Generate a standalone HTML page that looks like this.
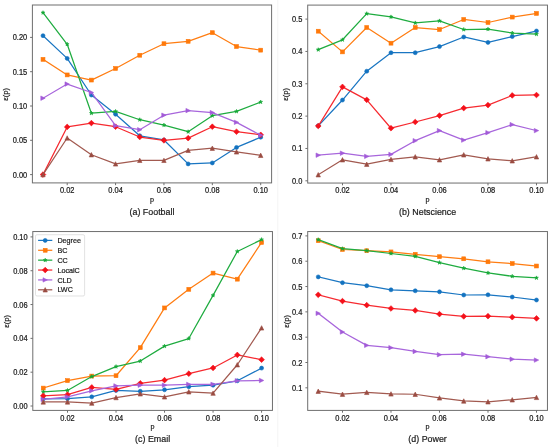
<!DOCTYPE html><html><head><meta charset="utf-8"><style>html,body{margin:0;padding:0;background:#fff;width:550px;height:447px;overflow:hidden}svg{display:block;will-change:transform}text{font-family:"Liberation Sans", sans-serif;fill:#1a1a1a;stroke:#1a1a1a;stroke-width:0.2px}</style></head><body>
<svg width="550" height="447" viewBox="0 0 550 447">
<rect width="550" height="447" fill="#fff"/>
<line x1="277.8" y1="0" x2="277.8" y2="447" stroke="#f4f4f4" stroke-width="1"/>
<g transform="translate(0.5 0.5)">
<clipPath id="c0"><rect x="31.9" y="4.5" width="239.2" height="177.9"/></clipPath>
<g clip-path="url(#c0)">
<polyline points="42.5,35.18 66.69,57.89 90.88,94.52 115.07,113.73 139.26,135.27 163.45,139.46 187.64,163.4 211.83,162.44 236.02,146.93 260.21,136.71" fill="none" stroke="#1a76c2" stroke-width="1.25" stroke-linejoin="round" stroke-linecap="square"/>
<circle cx="42.5" cy="35.18" r="2" fill="#1272c0" stroke="#1272c0" stroke-width="0.6"/>
<circle cx="66.69" cy="57.89" r="2" fill="#1272c0" stroke="#1272c0" stroke-width="0.6"/>
<circle cx="90.88" cy="94.52" r="2" fill="#1272c0" stroke="#1272c0" stroke-width="0.6"/>
<circle cx="115.07" cy="113.73" r="2" fill="#1272c0" stroke="#1272c0" stroke-width="0.6"/>
<circle cx="139.26" cy="135.27" r="2" fill="#1272c0" stroke="#1272c0" stroke-width="0.6"/>
<circle cx="163.45" cy="139.46" r="2" fill="#1272c0" stroke="#1272c0" stroke-width="0.6"/>
<circle cx="187.64" cy="163.4" r="2" fill="#1272c0" stroke="#1272c0" stroke-width="0.6"/>
<circle cx="211.83" cy="162.44" r="2" fill="#1272c0" stroke="#1272c0" stroke-width="0.6"/>
<circle cx="236.02" cy="146.93" r="2" fill="#1272c0" stroke="#1272c0" stroke-width="0.6"/>
<circle cx="260.21" cy="136.71" r="2" fill="#1272c0" stroke="#1272c0" stroke-width="0.6"/>
<polyline points="42.5,58.85 66.69,74.42 90.88,79.57 115.07,67.98 139.26,54.74 163.45,43.21 187.64,40.81 211.83,32.17 236.02,46.02 260.21,49.66" fill="none" stroke="#ff7d12" stroke-width="1.25" stroke-linejoin="round" stroke-linecap="square"/>
<rect x="40.55" y="56.9" width="3.9" height="3.9" fill="#ff790a" stroke="#ff790a" stroke-width="0.6"/>
<rect x="64.74" y="72.47" width="3.9" height="3.9" fill="#ff790a" stroke="#ff790a" stroke-width="0.6"/>
<rect x="88.93" y="77.62" width="3.9" height="3.9" fill="#ff790a" stroke="#ff790a" stroke-width="0.6"/>
<rect x="113.12" y="66.03" width="3.9" height="3.9" fill="#ff790a" stroke="#ff790a" stroke-width="0.6"/>
<rect x="137.31" y="52.79" width="3.9" height="3.9" fill="#ff790a" stroke="#ff790a" stroke-width="0.6"/>
<rect x="161.5" y="41.26" width="3.9" height="3.9" fill="#ff790a" stroke="#ff790a" stroke-width="0.6"/>
<rect x="185.69" y="38.86" width="3.9" height="3.9" fill="#ff790a" stroke="#ff790a" stroke-width="0.6"/>
<rect x="209.88" y="30.22" width="3.9" height="3.9" fill="#ff790a" stroke="#ff790a" stroke-width="0.6"/>
<rect x="234.07" y="44.07" width="3.9" height="3.9" fill="#ff790a" stroke="#ff790a" stroke-width="0.6"/>
<rect x="258.26" y="47.71" width="3.9" height="3.9" fill="#ff790a" stroke="#ff790a" stroke-width="0.6"/>
<polyline points="42.5,12.2 66.69,43.76 90.88,112.7 115.07,110.92 139.26,119.22 163.45,124.57 187.64,131.22 211.83,115.17 236.02,110.92 260.21,101.52" fill="none" stroke="#1fac40" stroke-width="1.25" stroke-linejoin="round" stroke-linecap="square"/>
<path d="M42.5 10.2L42.95 11.59L44.4 11.59L43.23 12.44L43.68 13.82L42.5 12.97L41.32 13.82L41.77 12.44L40.6 11.59L42.05 11.59Z" fill="#14a836" stroke="#14a836" stroke-width="0.6"/>
<path d="M66.69 41.76L67.14 43.14L68.59 43.14L67.42 44L67.87 45.38L66.69 44.52L65.51 45.38L65.96 44L64.79 43.14L66.24 43.14Z" fill="#14a836" stroke="#14a836" stroke-width="0.6"/>
<path d="M90.88 110.7L91.33 112.08L92.78 112.08L91.61 112.94L92.06 114.32L90.88 113.47L89.7 114.32L90.15 112.94L88.98 112.08L90.43 112.08Z" fill="#14a836" stroke="#14a836" stroke-width="0.6"/>
<path d="M115.07 108.92L115.52 110.3L116.97 110.3L115.8 111.16L116.25 112.54L115.07 111.68L113.89 112.54L114.34 111.16L113.17 110.3L114.62 110.3Z" fill="#14a836" stroke="#14a836" stroke-width="0.6"/>
<path d="M139.26 117.22L139.71 118.6L141.16 118.6L139.99 119.46L140.44 120.84L139.26 119.98L138.08 120.84L138.53 119.46L137.36 118.6L138.81 118.6Z" fill="#14a836" stroke="#14a836" stroke-width="0.6"/>
<path d="M163.45 122.57L163.9 123.95L165.35 123.95L164.18 124.81L164.63 126.19L163.45 125.33L162.27 126.19L162.72 124.81L161.55 123.95L163 123.95Z" fill="#14a836" stroke="#14a836" stroke-width="0.6"/>
<path d="M187.64 129.22L188.09 130.61L189.54 130.61L188.37 131.46L188.82 132.84L187.64 131.99L186.46 132.84L186.91 131.46L185.74 130.61L187.19 130.61Z" fill="#14a836" stroke="#14a836" stroke-width="0.6"/>
<path d="M211.83 113.17L212.28 114.55L213.73 114.55L212.56 115.41L213.01 116.79L211.83 115.94L210.65 116.79L211.1 115.41L209.93 114.55L211.38 114.55Z" fill="#14a836" stroke="#14a836" stroke-width="0.6"/>
<path d="M236.02 108.92L236.47 110.3L237.92 110.3L236.75 111.16L237.2 112.54L236.02 111.68L234.84 112.54L235.29 111.16L234.12 110.3L235.57 110.3Z" fill="#14a836" stroke="#14a836" stroke-width="0.6"/>
<path d="M260.21 99.52L260.66 100.9L262.11 100.9L260.94 101.76L261.39 103.14L260.21 102.29L259.03 103.14L259.48 101.76L258.31 100.9L259.76 100.9Z" fill="#14a836" stroke="#14a836" stroke-width="0.6"/>
<polyline points="42.5,174.1 66.69,126.42 90.88,122.58 115.07,126.22 139.26,136.51 163.45,139.87 187.64,137.67 211.83,126.22 236.02,131.22 260.21,134.31" fill="none" stroke="#f62a30" stroke-width="1.25" stroke-linejoin="round" stroke-linecap="square"/>
<path d="M42.5 171.25L45.35 174.1L42.5 176.95L39.65 174.1Z" fill="#f4101a" stroke="#f4101a" stroke-width="0.6"/>
<path d="M66.69 123.57L69.54 126.42L66.69 129.27L63.84 126.42Z" fill="#f4101a" stroke="#f4101a" stroke-width="0.6"/>
<path d="M90.88 119.73L93.73 122.58L90.88 125.43L88.03 122.58Z" fill="#f4101a" stroke="#f4101a" stroke-width="0.6"/>
<path d="M115.07 123.37L117.92 126.22L115.07 129.07L112.22 126.22Z" fill="#f4101a" stroke="#f4101a" stroke-width="0.6"/>
<path d="M139.26 133.66L142.11 136.51L139.26 139.36L136.41 136.51Z" fill="#f4101a" stroke="#f4101a" stroke-width="0.6"/>
<path d="M163.45 137.02L166.3 139.87L163.45 142.72L160.6 139.87Z" fill="#f4101a" stroke="#f4101a" stroke-width="0.6"/>
<path d="M187.64 134.82L190.49 137.67L187.64 140.52L184.79 137.67Z" fill="#f4101a" stroke="#f4101a" stroke-width="0.6"/>
<path d="M211.83 123.37L214.68 126.22L211.83 129.07L208.98 126.22Z" fill="#f4101a" stroke="#f4101a" stroke-width="0.6"/>
<path d="M236.02 128.38L238.87 131.22L236.02 134.07L233.17 131.22Z" fill="#f4101a" stroke="#f4101a" stroke-width="0.6"/>
<path d="M260.21 131.46L263.06 134.31L260.21 137.16L257.36 134.31Z" fill="#f4101a" stroke="#f4101a" stroke-width="0.6"/>
<polyline points="42.5,97.68 66.69,83.55 90.88,91.99 115.07,125.19 139.26,129.24 163.45,114.69 187.64,110.1 211.83,112.09 236.02,121.83 260.21,134.72" fill="none" stroke="#a866dc" stroke-width="1.25" stroke-linejoin="round" stroke-linecap="square"/>
<path d="M44.7 97.68L40.3 99.88L40.3 95.48Z" fill="#a25bd8" stroke="#a25bd8" stroke-width="0.6"/>
<path d="M68.89 83.55L64.49 85.75L64.49 81.35Z" fill="#a25bd8" stroke="#a25bd8" stroke-width="0.6"/>
<path d="M93.08 91.99L88.68 94.19L88.68 89.79Z" fill="#a25bd8" stroke="#a25bd8" stroke-width="0.6"/>
<path d="M117.27 125.19L112.87 127.39L112.87 122.99Z" fill="#a25bd8" stroke="#a25bd8" stroke-width="0.6"/>
<path d="M141.46 129.24L137.06 131.44L137.06 127.04Z" fill="#a25bd8" stroke="#a25bd8" stroke-width="0.6"/>
<path d="M165.65 114.69L161.25 116.89L161.25 112.49Z" fill="#a25bd8" stroke="#a25bd8" stroke-width="0.6"/>
<path d="M189.84 110.1L185.44 112.3L185.44 107.9Z" fill="#a25bd8" stroke="#a25bd8" stroke-width="0.6"/>
<path d="M214.03 112.09L209.63 114.29L209.63 109.89Z" fill="#a25bd8" stroke="#a25bd8" stroke-width="0.6"/>
<path d="M238.22 121.83L233.82 124.03L233.82 119.63Z" fill="#a25bd8" stroke="#a25bd8" stroke-width="0.6"/>
<path d="M262.41 134.72L258.01 136.92L258.01 132.52Z" fill="#a25bd8" stroke="#a25bd8" stroke-width="0.6"/>
<polyline points="42.5,174.1 66.69,137.47 90.88,154.21 115.07,163.4 139.26,159.83 163.45,159.83 187.64,149.82 211.83,147.69 236.02,151.39 260.21,154.82" fill="none" stroke="#a25a50" stroke-width="1.25" stroke-linejoin="round" stroke-linecap="square"/>
<path d="M42.5 171.9L44.7 176.3L40.3 176.3Z" fill="#9a4c42" stroke="#9a4c42" stroke-width="0.6"/>
<path d="M66.69 135.27L68.89 139.67L64.49 139.67Z" fill="#9a4c42" stroke="#9a4c42" stroke-width="0.6"/>
<path d="M90.88 152.01L93.08 156.41L88.68 156.41Z" fill="#9a4c42" stroke="#9a4c42" stroke-width="0.6"/>
<path d="M115.07 161.2L117.27 165.6L112.87 165.6Z" fill="#9a4c42" stroke="#9a4c42" stroke-width="0.6"/>
<path d="M139.26 157.63L141.46 162.03L137.06 162.03Z" fill="#9a4c42" stroke="#9a4c42" stroke-width="0.6"/>
<path d="M163.45 157.63L165.65 162.03L161.25 162.03Z" fill="#9a4c42" stroke="#9a4c42" stroke-width="0.6"/>
<path d="M187.64 147.62L189.84 152.02L185.44 152.02Z" fill="#9a4c42" stroke="#9a4c42" stroke-width="0.6"/>
<path d="M211.83 145.49L214.03 149.89L209.63 149.89Z" fill="#9a4c42" stroke="#9a4c42" stroke-width="0.6"/>
<path d="M236.02 149.19L238.22 153.59L233.82 153.59Z" fill="#9a4c42" stroke="#9a4c42" stroke-width="0.6"/>
<path d="M260.21 152.62L262.41 157.02L258.01 157.02Z" fill="#9a4c42" stroke="#9a4c42" stroke-width="0.6"/>
</g>
<rect x="31.9" y="4.5" width="239.2" height="177.9" fill="none" stroke="#6e6e6e" stroke-width="1.0"/>
<line x1="66.69" y1="182.4" x2="66.69" y2="184.7" stroke="#6e6e6e" stroke-width="1.0"/>
<text transform="translate(66.69 192.5) scale(1 1.14)" font-size="7.45" text-anchor="middle">0.02</text>
<line x1="115.07" y1="182.4" x2="115.07" y2="184.7" stroke="#6e6e6e" stroke-width="1.0"/>
<text transform="translate(115.07 192.5) scale(1 1.14)" font-size="7.45" text-anchor="middle">0.04</text>
<line x1="163.45" y1="182.4" x2="163.45" y2="184.7" stroke="#6e6e6e" stroke-width="1.0"/>
<text transform="translate(163.45 192.5) scale(1 1.14)" font-size="7.45" text-anchor="middle">0.06</text>
<line x1="211.83" y1="182.4" x2="211.83" y2="184.7" stroke="#6e6e6e" stroke-width="1.0"/>
<text transform="translate(211.83 192.5) scale(1 1.14)" font-size="7.45" text-anchor="middle">0.08</text>
<line x1="260.21" y1="182.4" x2="260.21" y2="184.7" stroke="#6e6e6e" stroke-width="1.0"/>
<text transform="translate(260.21 192.5) scale(1 1.14)" font-size="7.45" text-anchor="middle">0.10</text>
<line x1="29.6" y1="174.1" x2="31.9" y2="174.1" stroke="#6e6e6e" stroke-width="1.0"/>
<text transform="translate(26.7 177.1) scale(1 1.14)" font-size="7.45" text-anchor="end">0.00</text>
<line x1="29.6" y1="139.8" x2="31.9" y2="139.8" stroke="#6e6e6e" stroke-width="1.0"/>
<text transform="translate(26.7 142.8) scale(1 1.14)" font-size="7.45" text-anchor="end">0.05</text>
<line x1="29.6" y1="105.5" x2="31.9" y2="105.5" stroke="#6e6e6e" stroke-width="1.0"/>
<text transform="translate(26.7 108.5) scale(1 1.14)" font-size="7.45" text-anchor="end">0.10</text>
<line x1="29.6" y1="71.2" x2="31.9" y2="71.2" stroke="#6e6e6e" stroke-width="1.0"/>
<text transform="translate(26.7 74.2) scale(1 1.14)" font-size="7.45" text-anchor="end">0.15</text>
<line x1="29.6" y1="36.9" x2="31.9" y2="36.9" stroke="#6e6e6e" stroke-width="1.0"/>
<text transform="translate(26.7 39.9) scale(1 1.14)" font-size="7.45" text-anchor="end">0.20</text>
<text x="151.5" y="201.3" font-size="7.2" text-anchor="middle">p</text>
<text transform="translate(7.8 93.75) rotate(-90)" font-size="7.7" text-anchor="middle">&#949;(p)</text>
<text x="151.5" y="214.7" font-size="8.9" text-anchor="middle">(a) Football</text>
<clipPath id="c1"><rect x="307.2" y="4.6" width="239.75" height="177.95"/></clipPath>
<g clip-path="url(#c1)">
<polyline points="317.74,125.32 341.99,99.55 366.24,70.7 390.49,52.23 414.74,52.23 438.99,46.09 463.24,36.48 487.49,41.88 511.74,36.1 535.99,30.5" fill="none" stroke="#1a76c2" stroke-width="1.25" stroke-linejoin="round" stroke-linecap="square"/>
<circle cx="317.74" cy="125.32" r="2" fill="#1272c0" stroke="#1272c0" stroke-width="0.6"/>
<circle cx="341.99" cy="99.55" r="2" fill="#1272c0" stroke="#1272c0" stroke-width="0.6"/>
<circle cx="366.24" cy="70.7" r="2" fill="#1272c0" stroke="#1272c0" stroke-width="0.6"/>
<circle cx="390.49" cy="52.23" r="2" fill="#1272c0" stroke="#1272c0" stroke-width="0.6"/>
<circle cx="414.74" cy="52.23" r="2" fill="#1272c0" stroke="#1272c0" stroke-width="0.6"/>
<circle cx="438.99" cy="46.09" r="2" fill="#1272c0" stroke="#1272c0" stroke-width="0.6"/>
<circle cx="463.24" cy="36.48" r="2" fill="#1272c0" stroke="#1272c0" stroke-width="0.6"/>
<circle cx="487.49" cy="41.88" r="2" fill="#1272c0" stroke="#1272c0" stroke-width="0.6"/>
<circle cx="511.74" cy="36.1" r="2" fill="#1272c0" stroke="#1272c0" stroke-width="0.6"/>
<circle cx="535.99" cy="30.5" r="2" fill="#1272c0" stroke="#1272c0" stroke-width="0.6"/>
<polyline points="317.74,30.7 341.99,51.39 366.24,27.01 390.49,42.69 414.74,27.01 438.99,29.01 463.24,18.99 487.49,22 511.74,16.59 535.99,12.94" fill="none" stroke="#ff7d12" stroke-width="1.25" stroke-linejoin="round" stroke-linecap="square"/>
<rect x="315.79" y="28.75" width="3.9" height="3.9" fill="#ff790a" stroke="#ff790a" stroke-width="0.6"/>
<rect x="340.04" y="49.44" width="3.9" height="3.9" fill="#ff790a" stroke="#ff790a" stroke-width="0.6"/>
<rect x="364.29" y="25.06" width="3.9" height="3.9" fill="#ff790a" stroke="#ff790a" stroke-width="0.6"/>
<rect x="388.54" y="40.74" width="3.9" height="3.9" fill="#ff790a" stroke="#ff790a" stroke-width="0.6"/>
<rect x="412.79" y="25.06" width="3.9" height="3.9" fill="#ff790a" stroke="#ff790a" stroke-width="0.6"/>
<rect x="437.04" y="27.06" width="3.9" height="3.9" fill="#ff790a" stroke="#ff790a" stroke-width="0.6"/>
<rect x="461.29" y="17.04" width="3.9" height="3.9" fill="#ff790a" stroke="#ff790a" stroke-width="0.6"/>
<rect x="485.54" y="20.05" width="3.9" height="3.9" fill="#ff790a" stroke="#ff790a" stroke-width="0.6"/>
<rect x="509.79" y="14.64" width="3.9" height="3.9" fill="#ff790a" stroke="#ff790a" stroke-width="0.6"/>
<rect x="534.04" y="10.99" width="3.9" height="3.9" fill="#ff790a" stroke="#ff790a" stroke-width="0.6"/>
<polyline points="317.74,49.19 341.99,39.3 366.24,13.17 390.49,16.4 414.74,22.38 438.99,20.41 463.24,29.01 487.49,28.63 511.74,32.51 535.99,33.7" fill="none" stroke="#1fac40" stroke-width="1.25" stroke-linejoin="round" stroke-linecap="square"/>
<path d="M317.74 47.19L318.19 48.58L319.64 48.58L318.47 49.43L318.92 50.81L317.74 49.96L316.56 50.81L317.01 49.43L315.84 48.58L317.29 48.58Z" fill="#14a836" stroke="#14a836" stroke-width="0.6"/>
<path d="M341.99 37.3L342.44 38.68L343.89 38.68L342.72 39.53L343.17 40.92L341.99 40.06L340.81 40.92L341.26 39.53L340.09 38.68L341.54 38.68Z" fill="#14a836" stroke="#14a836" stroke-width="0.6"/>
<path d="M366.24 11.17L366.69 12.55L368.14 12.55L366.97 13.4L367.42 14.78L366.24 13.93L365.06 14.78L365.51 13.4L364.34 12.55L365.79 12.55Z" fill="#14a836" stroke="#14a836" stroke-width="0.6"/>
<path d="M390.49 14.4L390.94 15.78L392.39 15.78L391.22 16.64L391.67 18.02L390.49 17.16L389.31 18.02L389.76 16.64L388.59 15.78L390.04 15.78Z" fill="#14a836" stroke="#14a836" stroke-width="0.6"/>
<path d="M414.74 20.38L415.19 21.77L416.64 21.77L415.47 22.62L415.92 24L414.74 23.15L413.56 24L414.01 22.62L412.84 21.77L414.29 21.77Z" fill="#14a836" stroke="#14a836" stroke-width="0.6"/>
<path d="M438.99 18.41L439.44 19.79L440.89 19.79L439.72 20.65L440.17 22.03L438.99 21.17L437.81 22.03L438.26 20.65L437.09 19.79L438.54 19.79Z" fill="#14a836" stroke="#14a836" stroke-width="0.6"/>
<path d="M463.24 27.01L463.69 28.4L465.14 28.4L463.97 29.25L464.42 30.63L463.24 29.78L462.06 30.63L462.51 29.25L461.34 28.4L462.79 28.4Z" fill="#14a836" stroke="#14a836" stroke-width="0.6"/>
<path d="M487.49 26.63L487.94 28.01L489.39 28.01L488.22 28.86L488.67 30.24L487.49 29.39L486.31 30.24L486.76 28.86L485.59 28.01L487.04 28.01Z" fill="#14a836" stroke="#14a836" stroke-width="0.6"/>
<path d="M511.74 30.51L512.19 31.89L513.64 31.89L512.47 32.74L512.92 34.12L511.74 33.27L510.56 34.12L511.01 32.74L509.84 31.89L511.29 31.89Z" fill="#14a836" stroke="#14a836" stroke-width="0.6"/>
<path d="M535.99 31.7L536.44 33.08L537.89 33.08L536.72 33.94L537.17 35.32L535.99 34.47L534.81 35.32L535.26 33.94L534.09 33.08L535.54 33.08Z" fill="#14a836" stroke="#14a836" stroke-width="0.6"/>
<polyline points="317.74,125.52 341.99,86.38 366.24,99.35 390.49,127.72 414.74,121.51 438.99,115.1 463.24,107.6 487.49,104.59 511.74,94.92 535.99,94.5" fill="none" stroke="#f62a30" stroke-width="1.25" stroke-linejoin="round" stroke-linecap="square"/>
<path d="M317.74 122.67L320.59 125.52L317.74 128.37L314.89 125.52Z" fill="#f4101a" stroke="#f4101a" stroke-width="0.6"/>
<path d="M341.99 83.53L344.84 86.38L341.99 89.23L339.14 86.38Z" fill="#f4101a" stroke="#f4101a" stroke-width="0.6"/>
<path d="M366.24 96.5L369.09 99.35L366.24 102.2L363.39 99.35Z" fill="#f4101a" stroke="#f4101a" stroke-width="0.6"/>
<path d="M390.49 124.87L393.34 127.72L390.49 130.57L387.64 127.72Z" fill="#f4101a" stroke="#f4101a" stroke-width="0.6"/>
<path d="M414.74 118.66L417.59 121.51L414.74 124.36L411.89 121.51Z" fill="#f4101a" stroke="#f4101a" stroke-width="0.6"/>
<path d="M438.99 112.25L441.84 115.1L438.99 117.95L436.14 115.1Z" fill="#f4101a" stroke="#f4101a" stroke-width="0.6"/>
<path d="M463.24 104.75L466.09 107.6L463.24 110.45L460.39 107.6Z" fill="#f4101a" stroke="#f4101a" stroke-width="0.6"/>
<path d="M487.49 101.74L490.34 104.59L487.49 107.44L484.64 104.59Z" fill="#f4101a" stroke="#f4101a" stroke-width="0.6"/>
<path d="M511.74 92.07L514.59 94.92L511.74 97.77L508.89 94.92Z" fill="#f4101a" stroke="#f4101a" stroke-width="0.6"/>
<path d="M535.99 91.65L538.84 94.5L535.99 97.35L533.14 94.5Z" fill="#f4101a" stroke="#f4101a" stroke-width="0.6"/>
<polyline points="317.74,154.69 341.99,152.68 366.24,155.88 390.49,153.91 414.74,140.2 438.99,130.11 463.24,139.62 487.49,132.21 511.74,124.09 535.99,130.11" fill="none" stroke="#a866dc" stroke-width="1.25" stroke-linejoin="round" stroke-linecap="square"/>
<path d="M319.94 154.69L315.54 156.89L315.54 152.49Z" fill="#a25bd8" stroke="#a25bd8" stroke-width="0.6"/>
<path d="M344.19 152.68L339.79 154.88L339.79 150.48Z" fill="#a25bd8" stroke="#a25bd8" stroke-width="0.6"/>
<path d="M368.44 155.88L364.04 158.08L364.04 153.68Z" fill="#a25bd8" stroke="#a25bd8" stroke-width="0.6"/>
<path d="M392.69 153.91L388.29 156.11L388.29 151.71Z" fill="#a25bd8" stroke="#a25bd8" stroke-width="0.6"/>
<path d="M416.94 140.2L412.54 142.4L412.54 138Z" fill="#a25bd8" stroke="#a25bd8" stroke-width="0.6"/>
<path d="M441.19 130.11L436.79 132.31L436.79 127.91Z" fill="#a25bd8" stroke="#a25bd8" stroke-width="0.6"/>
<path d="M465.44 139.62L461.04 141.82L461.04 137.42Z" fill="#a25bd8" stroke="#a25bd8" stroke-width="0.6"/>
<path d="M489.69 132.21L485.29 134.41L485.29 130.01Z" fill="#a25bd8" stroke="#a25bd8" stroke-width="0.6"/>
<path d="M513.94 124.09L509.54 126.29L509.54 121.89Z" fill="#a25bd8" stroke="#a25bd8" stroke-width="0.6"/>
<path d="M538.19 130.11L533.79 132.31L533.79 127.91Z" fill="#a25bd8" stroke="#a25bd8" stroke-width="0.6"/>
<polyline points="317.74,174.25 341.99,159.28 366.24,163.71 390.49,158.89 414.74,156.3 438.99,159.28 463.24,154.3 487.49,158.31 511.74,160.31 535.99,156.3" fill="none" stroke="#a25a50" stroke-width="1.25" stroke-linejoin="round" stroke-linecap="square"/>
<path d="M317.74 172.05L319.94 176.45L315.54 176.45Z" fill="#9a4c42" stroke="#9a4c42" stroke-width="0.6"/>
<path d="M341.99 157.08L344.19 161.48L339.79 161.48Z" fill="#9a4c42" stroke="#9a4c42" stroke-width="0.6"/>
<path d="M366.24 161.51L368.44 165.91L364.04 165.91Z" fill="#9a4c42" stroke="#9a4c42" stroke-width="0.6"/>
<path d="M390.49 156.69L392.69 161.09L388.29 161.09Z" fill="#9a4c42" stroke="#9a4c42" stroke-width="0.6"/>
<path d="M414.74 154.1L416.94 158.5L412.54 158.5Z" fill="#9a4c42" stroke="#9a4c42" stroke-width="0.6"/>
<path d="M438.99 157.08L441.19 161.48L436.79 161.48Z" fill="#9a4c42" stroke="#9a4c42" stroke-width="0.6"/>
<path d="M463.24 152.1L465.44 156.5L461.04 156.5Z" fill="#9a4c42" stroke="#9a4c42" stroke-width="0.6"/>
<path d="M487.49 156.11L489.69 160.51L485.29 160.51Z" fill="#9a4c42" stroke="#9a4c42" stroke-width="0.6"/>
<path d="M511.74 158.11L513.94 162.51L509.54 162.51Z" fill="#9a4c42" stroke="#9a4c42" stroke-width="0.6"/>
<path d="M535.99 154.1L538.19 158.5L533.79 158.5Z" fill="#9a4c42" stroke="#9a4c42" stroke-width="0.6"/>
</g>
<rect x="307.2" y="4.6" width="239.75" height="177.95" fill="none" stroke="#6e6e6e" stroke-width="1.0"/>
<line x1="341.99" y1="182.55" x2="341.99" y2="184.85" stroke="#6e6e6e" stroke-width="1.0"/>
<text transform="translate(341.99 192.45) scale(1 1.14)" font-size="7.45" text-anchor="middle">0.02</text>
<line x1="390.49" y1="182.55" x2="390.49" y2="184.85" stroke="#6e6e6e" stroke-width="1.0"/>
<text transform="translate(390.49 192.45) scale(1 1.14)" font-size="7.45" text-anchor="middle">0.04</text>
<line x1="438.99" y1="182.55" x2="438.99" y2="184.85" stroke="#6e6e6e" stroke-width="1.0"/>
<text transform="translate(438.99 192.45) scale(1 1.14)" font-size="7.45" text-anchor="middle">0.06</text>
<line x1="487.49" y1="182.55" x2="487.49" y2="184.85" stroke="#6e6e6e" stroke-width="1.0"/>
<text transform="translate(487.49 192.45) scale(1 1.14)" font-size="7.45" text-anchor="middle">0.08</text>
<line x1="535.99" y1="182.55" x2="535.99" y2="184.85" stroke="#6e6e6e" stroke-width="1.0"/>
<text transform="translate(535.99 192.45) scale(1 1.14)" font-size="7.45" text-anchor="middle">0.10</text>
<line x1="304.9" y1="180.3" x2="307.2" y2="180.3" stroke="#6e6e6e" stroke-width="1.0"/>
<text transform="translate(301.8 183.3) scale(1 1.14)" font-size="7.45" text-anchor="end">0.0</text>
<line x1="304.9" y1="147.96" x2="307.2" y2="147.96" stroke="#6e6e6e" stroke-width="1.0"/>
<text transform="translate(301.8 150.96) scale(1 1.14)" font-size="7.45" text-anchor="end">0.1</text>
<line x1="304.9" y1="115.62" x2="307.2" y2="115.62" stroke="#6e6e6e" stroke-width="1.0"/>
<text transform="translate(301.8 118.62) scale(1 1.14)" font-size="7.45" text-anchor="end">0.2</text>
<line x1="304.9" y1="83.28" x2="307.2" y2="83.28" stroke="#6e6e6e" stroke-width="1.0"/>
<text transform="translate(301.8 86.28) scale(1 1.14)" font-size="7.45" text-anchor="end">0.3</text>
<line x1="304.9" y1="50.94" x2="307.2" y2="50.94" stroke="#6e6e6e" stroke-width="1.0"/>
<text transform="translate(301.8 53.94) scale(1 1.14)" font-size="7.45" text-anchor="end">0.4</text>
<line x1="304.9" y1="18.6" x2="307.2" y2="18.6" stroke="#6e6e6e" stroke-width="1.0"/>
<text transform="translate(301.8 21.6) scale(1 1.14)" font-size="7.45" text-anchor="end">0.5</text>
<text x="427.08" y="201.45" font-size="7.2" text-anchor="middle">p</text>
<text transform="translate(287.5 93.88) rotate(-90)" font-size="7.7" text-anchor="middle">&#949;(p)</text>
<text x="427.08" y="214" font-size="8.9" text-anchor="middle">(b) Netscience</text>
<clipPath id="c2"><rect x="32.3" y="231.05" width="239.65" height="178.85"/></clipPath>
<g clip-path="url(#c2)">
<polyline points="42.74,398.4 67,398.23 91.26,396.37 115.52,389.94 139.78,390.79 164.04,389.27 188.3,386.22 212.56,384.7 236.82,380.3 261.08,367.62" fill="none" stroke="#1a76c2" stroke-width="1.25" stroke-linejoin="round" stroke-linecap="square"/>
<circle cx="42.74" cy="398.4" r="2" fill="#1272c0" stroke="#1272c0" stroke-width="0.6"/>
<circle cx="67" cy="398.23" r="2" fill="#1272c0" stroke="#1272c0" stroke-width="0.6"/>
<circle cx="91.26" cy="396.37" r="2" fill="#1272c0" stroke="#1272c0" stroke-width="0.6"/>
<circle cx="115.52" cy="389.94" r="2" fill="#1272c0" stroke="#1272c0" stroke-width="0.6"/>
<circle cx="139.78" cy="390.79" r="2" fill="#1272c0" stroke="#1272c0" stroke-width="0.6"/>
<circle cx="164.04" cy="389.27" r="2" fill="#1272c0" stroke="#1272c0" stroke-width="0.6"/>
<circle cx="188.3" cy="386.22" r="2" fill="#1272c0" stroke="#1272c0" stroke-width="0.6"/>
<circle cx="212.56" cy="384.7" r="2" fill="#1272c0" stroke="#1272c0" stroke-width="0.6"/>
<circle cx="236.82" cy="380.3" r="2" fill="#1272c0" stroke="#1272c0" stroke-width="0.6"/>
<circle cx="261.08" cy="367.62" r="2" fill="#1272c0" stroke="#1272c0" stroke-width="0.6"/>
<polyline points="42.74,387.58 67,380.13 91.26,375.57 115.52,375.23 139.78,347.16 164.04,307.42 188.3,288.82 212.56,272.59 236.82,278.68 261.08,241.98" fill="none" stroke="#ff7d12" stroke-width="1.25" stroke-linejoin="round" stroke-linecap="square"/>
<rect x="40.79" y="385.63" width="3.9" height="3.9" fill="#ff790a" stroke="#ff790a" stroke-width="0.6"/>
<rect x="65.05" y="378.19" width="3.9" height="3.9" fill="#ff790a" stroke="#ff790a" stroke-width="0.6"/>
<rect x="89.31" y="373.62" width="3.9" height="3.9" fill="#ff790a" stroke="#ff790a" stroke-width="0.6"/>
<rect x="113.57" y="373.28" width="3.9" height="3.9" fill="#ff790a" stroke="#ff790a" stroke-width="0.6"/>
<rect x="137.83" y="345.21" width="3.9" height="3.9" fill="#ff790a" stroke="#ff790a" stroke-width="0.6"/>
<rect x="162.09" y="305.47" width="3.9" height="3.9" fill="#ff790a" stroke="#ff790a" stroke-width="0.6"/>
<rect x="186.35" y="286.87" width="3.9" height="3.9" fill="#ff790a" stroke="#ff790a" stroke-width="0.6"/>
<rect x="210.61" y="270.64" width="3.9" height="3.9" fill="#ff790a" stroke="#ff790a" stroke-width="0.6"/>
<rect x="234.87" y="276.73" width="3.9" height="3.9" fill="#ff790a" stroke="#ff790a" stroke-width="0.6"/>
<rect x="259.13" y="240.03" width="3.9" height="3.9" fill="#ff790a" stroke="#ff790a" stroke-width="0.6"/>
<polyline points="42.74,391.3 67,389.94 91.26,376.08 115.52,366.1 139.78,360.52 164.04,345.64 188.3,338.03 212.56,294.91 236.82,250.94 261.08,239.11" fill="none" stroke="#1fac40" stroke-width="1.25" stroke-linejoin="round" stroke-linecap="square"/>
<path d="M42.74 389.3L43.19 390.68L44.64 390.68L43.47 391.53L43.92 392.91L42.74 392.06L41.56 392.91L42.01 391.53L40.84 390.68L42.29 390.68Z" fill="#14a836" stroke="#14a836" stroke-width="0.6"/>
<path d="M67 387.94L67.45 389.32L68.9 389.32L67.73 390.18L68.18 391.56L67 390.71L65.82 391.56L66.27 390.18L65.1 389.32L66.55 389.32Z" fill="#14a836" stroke="#14a836" stroke-width="0.6"/>
<path d="M91.26 374.08L91.71 375.46L93.16 375.46L91.99 376.31L92.44 377.69L91.26 376.84L90.08 377.69L90.53 376.31L89.36 375.46L90.81 375.46Z" fill="#14a836" stroke="#14a836" stroke-width="0.6"/>
<path d="M115.52 364.1L115.97 365.48L117.42 365.48L116.25 366.34L116.7 367.72L115.52 366.86L114.34 367.72L114.79 366.34L113.62 365.48L115.07 365.48Z" fill="#14a836" stroke="#14a836" stroke-width="0.6"/>
<path d="M139.78 358.52L140.23 359.9L141.68 359.9L140.51 360.76L140.96 362.14L139.78 361.28L138.6 362.14L139.05 360.76L137.88 359.9L139.33 359.9Z" fill="#14a836" stroke="#14a836" stroke-width="0.6"/>
<path d="M164.04 343.64L164.49 345.02L165.94 345.02L164.77 345.87L165.22 347.26L164.04 346.4L162.86 347.26L163.31 345.87L162.14 345.02L163.59 345.02Z" fill="#14a836" stroke="#14a836" stroke-width="0.6"/>
<path d="M188.3 336.03L188.75 337.41L190.2 337.41L189.03 338.27L189.48 339.65L188.3 338.79L187.12 339.65L187.57 338.27L186.4 337.41L187.85 337.41Z" fill="#14a836" stroke="#14a836" stroke-width="0.6"/>
<path d="M212.56 292.91L213.01 294.29L214.46 294.29L213.29 295.14L213.74 296.53L212.56 295.67L211.38 296.53L211.83 295.14L210.66 294.29L212.11 294.29Z" fill="#14a836" stroke="#14a836" stroke-width="0.6"/>
<path d="M236.82 248.94L237.27 250.32L238.72 250.32L237.55 251.18L238 252.56L236.82 251.71L235.64 252.56L236.09 251.18L234.92 250.32L236.37 250.32Z" fill="#14a836" stroke="#14a836" stroke-width="0.6"/>
<path d="M261.08 237.11L261.53 238.49L262.98 238.49L261.81 239.34L262.26 240.72L261.08 239.87L259.9 240.72L260.35 239.34L259.18 238.49L260.63 238.49Z" fill="#14a836" stroke="#14a836" stroke-width="0.6"/>
<polyline points="42.74,395.35 67,394.17 91.26,386.9 115.52,388.93 139.78,382.84 164.04,379.63 188.3,373.2 212.56,367.45 236.82,354.43 261.08,359.17" fill="none" stroke="#f62a30" stroke-width="1.25" stroke-linejoin="round" stroke-linecap="square"/>
<path d="M42.74 392.5L45.59 395.35L42.74 398.2L39.89 395.35Z" fill="#f4101a" stroke="#f4101a" stroke-width="0.6"/>
<path d="M67 391.32L69.85 394.17L67 397.02L64.15 394.17Z" fill="#f4101a" stroke="#f4101a" stroke-width="0.6"/>
<path d="M91.26 384.05L94.11 386.9L91.26 389.75L88.41 386.9Z" fill="#f4101a" stroke="#f4101a" stroke-width="0.6"/>
<path d="M115.52 386.08L118.37 388.93L115.52 391.78L112.67 388.93Z" fill="#f4101a" stroke="#f4101a" stroke-width="0.6"/>
<path d="M139.78 379.99L142.63 382.84L139.78 385.69L136.93 382.84Z" fill="#f4101a" stroke="#f4101a" stroke-width="0.6"/>
<path d="M164.04 376.78L166.89 379.63L164.04 382.48L161.19 379.63Z" fill="#f4101a" stroke="#f4101a" stroke-width="0.6"/>
<path d="M188.3 370.35L191.15 373.2L188.3 376.05L185.45 373.2Z" fill="#f4101a" stroke="#f4101a" stroke-width="0.6"/>
<path d="M212.56 364.6L215.41 367.45L212.56 370.3L209.71 367.45Z" fill="#f4101a" stroke="#f4101a" stroke-width="0.6"/>
<path d="M236.82 351.58L239.67 354.43L236.82 357.28L233.97 354.43Z" fill="#f4101a" stroke="#f4101a" stroke-width="0.6"/>
<path d="M261.08 356.32L263.93 359.17L261.08 362.02L258.23 359.17Z" fill="#f4101a" stroke="#f4101a" stroke-width="0.6"/>
<polyline points="42.74,398.91 67,396.37 91.26,390.28 115.52,385.38 139.78,384.7 164.04,384.7 188.3,383.86 212.56,383.86 236.82,380.3 261.08,379.97" fill="none" stroke="#a866dc" stroke-width="1.25" stroke-linejoin="round" stroke-linecap="square"/>
<path d="M44.94 398.91L40.54 401.11L40.54 396.71Z" fill="#a25bd8" stroke="#a25bd8" stroke-width="0.6"/>
<path d="M69.2 396.37L64.8 398.57L64.8 394.17Z" fill="#a25bd8" stroke="#a25bd8" stroke-width="0.6"/>
<path d="M93.46 390.28L89.06 392.48L89.06 388.08Z" fill="#a25bd8" stroke="#a25bd8" stroke-width="0.6"/>
<path d="M117.72 385.38L113.32 387.58L113.32 383.18Z" fill="#a25bd8" stroke="#a25bd8" stroke-width="0.6"/>
<path d="M141.98 384.7L137.58 386.9L137.58 382.5Z" fill="#a25bd8" stroke="#a25bd8" stroke-width="0.6"/>
<path d="M166.24 384.7L161.84 386.9L161.84 382.5Z" fill="#a25bd8" stroke="#a25bd8" stroke-width="0.6"/>
<path d="M190.5 383.86L186.1 386.06L186.1 381.66Z" fill="#a25bd8" stroke="#a25bd8" stroke-width="0.6"/>
<path d="M214.76 383.86L210.36 386.06L210.36 381.66Z" fill="#a25bd8" stroke="#a25bd8" stroke-width="0.6"/>
<path d="M239.02 380.3L234.62 382.5L234.62 378.1Z" fill="#a25bd8" stroke="#a25bd8" stroke-width="0.6"/>
<path d="M263.28 379.97L258.88 382.17L258.88 377.77Z" fill="#a25bd8" stroke="#a25bd8" stroke-width="0.6"/>
<polyline points="42.74,401.44 67,401.44 91.26,402.63 115.52,397.05 139.78,393.32 164.04,396.37 188.3,391.3 212.56,392.65 236.82,364.24 261.08,327.38" fill="none" stroke="#a25a50" stroke-width="1.25" stroke-linejoin="round" stroke-linecap="square"/>
<path d="M42.74 399.24L44.94 403.64L40.54 403.64Z" fill="#9a4c42" stroke="#9a4c42" stroke-width="0.6"/>
<path d="M67 399.24L69.2 403.64L64.8 403.64Z" fill="#9a4c42" stroke="#9a4c42" stroke-width="0.6"/>
<path d="M91.26 400.43L93.46 404.83L89.06 404.83Z" fill="#9a4c42" stroke="#9a4c42" stroke-width="0.6"/>
<path d="M115.52 394.85L117.72 399.25L113.32 399.25Z" fill="#9a4c42" stroke="#9a4c42" stroke-width="0.6"/>
<path d="M139.78 391.12L141.98 395.52L137.58 395.52Z" fill="#9a4c42" stroke="#9a4c42" stroke-width="0.6"/>
<path d="M164.04 394.17L166.24 398.57L161.84 398.57Z" fill="#9a4c42" stroke="#9a4c42" stroke-width="0.6"/>
<path d="M188.3 389.1L190.5 393.5L186.1 393.5Z" fill="#9a4c42" stroke="#9a4c42" stroke-width="0.6"/>
<path d="M212.56 390.45L214.76 394.85L210.36 394.85Z" fill="#9a4c42" stroke="#9a4c42" stroke-width="0.6"/>
<path d="M236.82 362.04L239.02 366.44L234.62 366.44Z" fill="#9a4c42" stroke="#9a4c42" stroke-width="0.6"/>
<path d="M261.08 325.18L263.28 329.58L258.88 329.58Z" fill="#9a4c42" stroke="#9a4c42" stroke-width="0.6"/>
</g>
<rect x="32.3" y="231.05" width="239.65" height="178.85" fill="none" stroke="#6e6e6e" stroke-width="1.0"/>
<line x1="67" y1="409.9" x2="67" y2="412.2" stroke="#6e6e6e" stroke-width="1.0"/>
<text transform="translate(67 420) scale(1 1.14)" font-size="7.45" text-anchor="middle">0.02</text>
<line x1="115.52" y1="409.9" x2="115.52" y2="412.2" stroke="#6e6e6e" stroke-width="1.0"/>
<text transform="translate(115.52 420) scale(1 1.14)" font-size="7.45" text-anchor="middle">0.04</text>
<line x1="164.04" y1="409.9" x2="164.04" y2="412.2" stroke="#6e6e6e" stroke-width="1.0"/>
<text transform="translate(164.04 420) scale(1 1.14)" font-size="7.45" text-anchor="middle">0.06</text>
<line x1="212.56" y1="409.9" x2="212.56" y2="412.2" stroke="#6e6e6e" stroke-width="1.0"/>
<text transform="translate(212.56 420) scale(1 1.14)" font-size="7.45" text-anchor="middle">0.08</text>
<line x1="261.08" y1="409.9" x2="261.08" y2="412.2" stroke="#6e6e6e" stroke-width="1.0"/>
<text transform="translate(261.08 420) scale(1 1.14)" font-size="7.45" text-anchor="middle">0.10</text>
<line x1="30" y1="405.5" x2="32.3" y2="405.5" stroke="#6e6e6e" stroke-width="1.0"/>
<text transform="translate(27.1 408.5) scale(1 1.14)" font-size="7.45" text-anchor="end">0.00</text>
<line x1="30" y1="371.68" x2="32.3" y2="371.68" stroke="#6e6e6e" stroke-width="1.0"/>
<text transform="translate(27.1 374.68) scale(1 1.14)" font-size="7.45" text-anchor="end">0.02</text>
<line x1="30" y1="337.86" x2="32.3" y2="337.86" stroke="#6e6e6e" stroke-width="1.0"/>
<text transform="translate(27.1 340.86) scale(1 1.14)" font-size="7.45" text-anchor="end">0.04</text>
<line x1="30" y1="304.04" x2="32.3" y2="304.04" stroke="#6e6e6e" stroke-width="1.0"/>
<text transform="translate(27.1 307.04) scale(1 1.14)" font-size="7.45" text-anchor="end">0.06</text>
<line x1="30" y1="270.22" x2="32.3" y2="270.22" stroke="#6e6e6e" stroke-width="1.0"/>
<text transform="translate(27.1 273.22) scale(1 1.14)" font-size="7.45" text-anchor="end">0.08</text>
<line x1="30" y1="236.4" x2="32.3" y2="236.4" stroke="#6e6e6e" stroke-width="1.0"/>
<text transform="translate(27.1 239.4) scale(1 1.14)" font-size="7.45" text-anchor="end">0.10</text>
<text x="152.12" y="428.8" font-size="7.2" text-anchor="middle">p</text>
<text transform="translate(8.2 320.78) rotate(-90)" font-size="7.7" text-anchor="middle">&#949;(p)</text>
<text x="152.12" y="441.1" font-size="8.9" text-anchor="middle">(c) Email</text>
<rect x="35" y="234.2" width="49.1" height="61.3" rx="1.5" ry="1.5" fill="#fff" fill-opacity="0.8" stroke="#d6d6d6" stroke-width="0.7"/>
<line x1="37.6" y1="239.9" x2="51.8" y2="239.9" stroke="#1a76c2" stroke-width="1.25"/>
<circle cx="44.7" cy="239.9" r="2" fill="#1272c0" stroke="#1272c0" stroke-width="0.6"/>
<text x="56.9" y="242.5" font-size="7.2">Degree</text>
<line x1="37.6" y1="249.78" x2="51.8" y2="249.78" stroke="#ff7d12" stroke-width="1.25"/>
<rect x="42.75" y="247.83" width="3.9" height="3.9" fill="#ff790a" stroke="#ff790a" stroke-width="0.6"/>
<text x="56.9" y="252.38" font-size="7.2">BC</text>
<line x1="37.6" y1="259.66" x2="51.8" y2="259.66" stroke="#1fac40" stroke-width="1.25"/>
<path d="M44.7 257.66L45.15 259.04L46.6 259.04L45.43 259.9L45.88 261.28L44.7 260.42L43.52 261.28L43.97 259.9L42.8 259.04L44.25 259.04Z" fill="#14a836" stroke="#14a836" stroke-width="0.6"/>
<text x="56.9" y="262.26" font-size="7.2">CC</text>
<line x1="37.6" y1="269.54" x2="51.8" y2="269.54" stroke="#f62a30" stroke-width="1.25"/>
<path d="M44.7 266.69L47.55 269.54L44.7 272.39L41.85 269.54Z" fill="#f4101a" stroke="#f4101a" stroke-width="0.6"/>
<text x="56.9" y="272.14" font-size="7.2">LocalC</text>
<line x1="37.6" y1="279.42" x2="51.8" y2="279.42" stroke="#a866dc" stroke-width="1.25"/>
<path d="M46.9 279.42L42.5 281.62L42.5 277.22Z" fill="#a25bd8" stroke="#a25bd8" stroke-width="0.6"/>
<text x="56.9" y="282.02" font-size="7.2">CLD</text>
<line x1="37.6" y1="289.3" x2="51.8" y2="289.3" stroke="#a25a50" stroke-width="1.25"/>
<path d="M44.7 287.1L46.9 291.5L42.5 291.5Z" fill="#9a4c42" stroke="#9a4c42" stroke-width="0.6"/>
<text x="56.9" y="291.9" font-size="7.2">LWC</text>
<clipPath id="c3"><rect x="307.2" y="231.05" width="239.75" height="178.85"/></clipPath>
<g clip-path="url(#c3)">
<polyline points="317.74,276.39 341.99,282.19 366.24,285.2 390.49,289.31 414.74,290.29 438.99,291.31 463.24,294.5 487.49,294.29 511.74,296.5 535.99,299.51" fill="none" stroke="#1a76c2" stroke-width="1.25" stroke-linejoin="round" stroke-linecap="square"/>
<circle cx="317.74" cy="276.39" r="2" fill="#1272c0" stroke="#1272c0" stroke-width="0.6"/>
<circle cx="341.99" cy="282.19" r="2" fill="#1272c0" stroke="#1272c0" stroke-width="0.6"/>
<circle cx="366.24" cy="285.2" r="2" fill="#1272c0" stroke="#1272c0" stroke-width="0.6"/>
<circle cx="390.49" cy="289.31" r="2" fill="#1272c0" stroke="#1272c0" stroke-width="0.6"/>
<circle cx="414.74" cy="290.29" r="2" fill="#1272c0" stroke="#1272c0" stroke-width="0.6"/>
<circle cx="438.99" cy="291.31" r="2" fill="#1272c0" stroke="#1272c0" stroke-width="0.6"/>
<circle cx="463.24" cy="294.5" r="2" fill="#1272c0" stroke="#1272c0" stroke-width="0.6"/>
<circle cx="487.49" cy="294.29" r="2" fill="#1272c0" stroke="#1272c0" stroke-width="0.6"/>
<circle cx="511.74" cy="296.5" r="2" fill="#1272c0" stroke="#1272c0" stroke-width="0.6"/>
<circle cx="535.99" cy="299.51" r="2" fill="#1272c0" stroke="#1272c0" stroke-width="0.6"/>
<polyline points="317.74,240.21 341.99,249 366.24,250.21 390.49,251.4 414.74,253.81 438.99,256.19 463.24,258.29 487.49,261.3 511.74,263.1 535.99,265.51" fill="none" stroke="#ff7d12" stroke-width="1.25" stroke-linejoin="round" stroke-linecap="square"/>
<rect x="315.79" y="238.26" width="3.9" height="3.9" fill="#ff790a" stroke="#ff790a" stroke-width="0.6"/>
<rect x="340.04" y="247.05" width="3.9" height="3.9" fill="#ff790a" stroke="#ff790a" stroke-width="0.6"/>
<rect x="364.29" y="248.26" width="3.9" height="3.9" fill="#ff790a" stroke="#ff790a" stroke-width="0.6"/>
<rect x="388.54" y="249.45" width="3.9" height="3.9" fill="#ff790a" stroke="#ff790a" stroke-width="0.6"/>
<rect x="412.79" y="251.86" width="3.9" height="3.9" fill="#ff790a" stroke="#ff790a" stroke-width="0.6"/>
<rect x="437.04" y="254.24" width="3.9" height="3.9" fill="#ff790a" stroke="#ff790a" stroke-width="0.6"/>
<rect x="461.29" y="256.34" width="3.9" height="3.9" fill="#ff790a" stroke="#ff790a" stroke-width="0.6"/>
<rect x="485.54" y="259.35" width="3.9" height="3.9" fill="#ff790a" stroke="#ff790a" stroke-width="0.6"/>
<rect x="509.79" y="261.15" width="3.9" height="3.9" fill="#ff790a" stroke="#ff790a" stroke-width="0.6"/>
<rect x="534.04" y="263.56" width="3.9" height="3.9" fill="#ff790a" stroke="#ff790a" stroke-width="0.6"/>
<polyline points="317.74,239.15 341.99,248.21 366.24,250.21 390.49,253 414.74,255.91 438.99,262.11 463.24,267.71 487.49,272.39 511.74,275.81 535.99,277.41" fill="none" stroke="#1fac40" stroke-width="1.25" stroke-linejoin="round" stroke-linecap="square"/>
<path d="M317.74 237.15L318.19 238.53L319.64 238.53L318.47 239.38L318.92 240.77L317.74 239.91L316.56 240.77L317.01 239.38L315.84 238.53L317.29 238.53Z" fill="#14a836" stroke="#14a836" stroke-width="0.6"/>
<path d="M341.99 246.21L342.44 247.59L343.89 247.59L342.72 248.45L343.17 249.83L341.99 248.98L340.81 249.83L341.26 248.45L340.09 247.59L341.54 247.59Z" fill="#14a836" stroke="#14a836" stroke-width="0.6"/>
<path d="M366.24 248.21L366.69 249.59L368.14 249.59L366.97 250.45L367.42 251.83L366.24 250.98L365.06 251.83L365.51 250.45L364.34 249.59L365.79 249.59Z" fill="#14a836" stroke="#14a836" stroke-width="0.6"/>
<path d="M390.49 251L390.94 252.38L392.39 252.38L391.22 253.23L391.67 254.62L390.49 253.76L389.31 254.62L389.76 253.23L388.59 252.38L390.04 252.38Z" fill="#14a836" stroke="#14a836" stroke-width="0.6"/>
<path d="M414.74 253.91L415.19 255.29L416.64 255.29L415.47 256.15L415.92 257.53L414.74 256.67L413.56 257.53L414.01 256.15L412.84 255.29L414.29 255.29Z" fill="#14a836" stroke="#14a836" stroke-width="0.6"/>
<path d="M438.99 260.11L439.44 261.49L440.89 261.49L439.72 262.35L440.17 263.73L438.99 262.88L437.81 263.73L438.26 262.35L437.09 261.49L438.54 261.49Z" fill="#14a836" stroke="#14a836" stroke-width="0.6"/>
<path d="M463.24 265.71L463.69 267.09L465.14 267.09L463.97 267.94L464.42 269.33L463.24 268.47L462.06 269.33L462.51 267.94L461.34 267.09L462.79 267.09Z" fill="#14a836" stroke="#14a836" stroke-width="0.6"/>
<path d="M487.49 270.39L487.94 271.77L489.39 271.77L488.22 272.63L488.67 274.01L487.49 273.16L486.31 274.01L486.76 272.63L485.59 271.77L487.04 271.77Z" fill="#14a836" stroke="#14a836" stroke-width="0.6"/>
<path d="M511.74 273.81L512.19 275.19L513.64 275.19L512.47 276.05L512.92 277.43L511.74 276.57L510.56 277.43L511.01 276.05L509.84 275.19L511.29 275.19Z" fill="#14a836" stroke="#14a836" stroke-width="0.6"/>
<path d="M535.99 275.41L536.44 276.79L537.89 276.79L536.72 277.64L537.17 279.02L535.99 278.17L534.81 279.02L535.26 277.64L534.09 276.79L535.54 276.79Z" fill="#14a836" stroke="#14a836" stroke-width="0.6"/>
<polyline points="317.74,294.29 341.99,300.6 366.24,304.65 390.49,307.99 414.74,309.94 438.99,313.59 463.24,315.89 487.49,315.69 511.74,316.7 535.99,317.89" fill="none" stroke="#f62a30" stroke-width="1.25" stroke-linejoin="round" stroke-linecap="square"/>
<path d="M317.74 291.44L320.59 294.29L317.74 297.14L314.89 294.29Z" fill="#f4101a" stroke="#f4101a" stroke-width="0.6"/>
<path d="M341.99 297.75L344.84 300.6L341.99 303.45L339.14 300.6Z" fill="#f4101a" stroke="#f4101a" stroke-width="0.6"/>
<path d="M366.24 301.8L369.09 304.65L366.24 307.5L363.39 304.65Z" fill="#f4101a" stroke="#f4101a" stroke-width="0.6"/>
<path d="M390.49 305.14L393.34 307.99L390.49 310.84L387.64 307.99Z" fill="#f4101a" stroke="#f4101a" stroke-width="0.6"/>
<path d="M414.74 307.09L417.59 309.94L414.74 312.79L411.89 309.94Z" fill="#f4101a" stroke="#f4101a" stroke-width="0.6"/>
<path d="M438.99 310.74L441.84 313.59L438.99 316.44L436.14 313.59Z" fill="#f4101a" stroke="#f4101a" stroke-width="0.6"/>
<path d="M463.24 313.04L466.09 315.89L463.24 318.74L460.39 315.89Z" fill="#f4101a" stroke="#f4101a" stroke-width="0.6"/>
<path d="M487.49 312.84L490.34 315.69L487.49 318.54L484.64 315.69Z" fill="#f4101a" stroke="#f4101a" stroke-width="0.6"/>
<path d="M511.74 313.85L514.59 316.7L511.74 319.55L508.89 316.7Z" fill="#f4101a" stroke="#f4101a" stroke-width="0.6"/>
<path d="M535.99 315.04L538.84 317.89L535.99 320.74L533.14 317.89Z" fill="#f4101a" stroke="#f4101a" stroke-width="0.6"/>
<polyline points="317.74,312.85 341.99,331.51 366.24,344.86 390.49,347.19 414.74,350.99 438.99,354.2 463.24,353.7 487.49,356.2 511.74,358.68 535.99,359.59" fill="none" stroke="#a866dc" stroke-width="1.25" stroke-linejoin="round" stroke-linecap="square"/>
<path d="M319.94 312.85L315.54 315.05L315.54 310.65Z" fill="#a25bd8" stroke="#a25bd8" stroke-width="0.6"/>
<path d="M344.19 331.51L339.79 333.71L339.79 329.31Z" fill="#a25bd8" stroke="#a25bd8" stroke-width="0.6"/>
<path d="M368.44 344.86L364.04 347.06L364.04 342.66Z" fill="#a25bd8" stroke="#a25bd8" stroke-width="0.6"/>
<path d="M392.69 347.19L388.29 349.39L388.29 344.99Z" fill="#a25bd8" stroke="#a25bd8" stroke-width="0.6"/>
<path d="M416.94 350.99L412.54 353.19L412.54 348.79Z" fill="#a25bd8" stroke="#a25bd8" stroke-width="0.6"/>
<path d="M441.19 354.2L436.79 356.4L436.79 352Z" fill="#a25bd8" stroke="#a25bd8" stroke-width="0.6"/>
<path d="M465.44 353.7L461.04 355.9L461.04 351.5Z" fill="#a25bd8" stroke="#a25bd8" stroke-width="0.6"/>
<path d="M489.69 356.2L485.29 358.4L485.29 354Z" fill="#a25bd8" stroke="#a25bd8" stroke-width="0.6"/>
<path d="M513.94 358.68L509.54 360.88L509.54 356.48Z" fill="#a25bd8" stroke="#a25bd8" stroke-width="0.6"/>
<path d="M538.19 359.59L533.79 361.79L533.79 357.39Z" fill="#a25bd8" stroke="#a25bd8" stroke-width="0.6"/>
<polyline points="317.74,390.69 341.99,393.7 366.24,391.85 390.49,393.4 414.74,393.75 438.99,397.4 463.24,400.49 487.49,401.3 511.74,399.3 535.99,396.89" fill="none" stroke="#a25a50" stroke-width="1.25" stroke-linejoin="round" stroke-linecap="square"/>
<path d="M317.74 388.49L319.94 392.89L315.54 392.89Z" fill="#9a4c42" stroke="#9a4c42" stroke-width="0.6"/>
<path d="M341.99 391.5L344.19 395.9L339.79 395.9Z" fill="#9a4c42" stroke="#9a4c42" stroke-width="0.6"/>
<path d="M366.24 389.65L368.44 394.05L364.04 394.05Z" fill="#9a4c42" stroke="#9a4c42" stroke-width="0.6"/>
<path d="M390.49 391.2L392.69 395.6L388.29 395.6Z" fill="#9a4c42" stroke="#9a4c42" stroke-width="0.6"/>
<path d="M414.74 391.55L416.94 395.95L412.54 395.95Z" fill="#9a4c42" stroke="#9a4c42" stroke-width="0.6"/>
<path d="M438.99 395.2L441.19 399.6L436.79 399.6Z" fill="#9a4c42" stroke="#9a4c42" stroke-width="0.6"/>
<path d="M463.24 398.29L465.44 402.69L461.04 402.69Z" fill="#9a4c42" stroke="#9a4c42" stroke-width="0.6"/>
<path d="M487.49 399.1L489.69 403.5L485.29 403.5Z" fill="#9a4c42" stroke="#9a4c42" stroke-width="0.6"/>
<path d="M511.74 397.1L513.94 401.5L509.54 401.5Z" fill="#9a4c42" stroke="#9a4c42" stroke-width="0.6"/>
<path d="M535.99 394.69L538.19 399.09L533.79 399.09Z" fill="#9a4c42" stroke="#9a4c42" stroke-width="0.6"/>
</g>
<rect x="307.2" y="231.05" width="239.75" height="178.85" fill="none" stroke="#6e6e6e" stroke-width="1.0"/>
<line x1="341.99" y1="409.9" x2="341.99" y2="412.2" stroke="#6e6e6e" stroke-width="1.0"/>
<text transform="translate(341.99 420) scale(1 1.14)" font-size="7.45" text-anchor="middle">0.02</text>
<line x1="390.49" y1="409.9" x2="390.49" y2="412.2" stroke="#6e6e6e" stroke-width="1.0"/>
<text transform="translate(390.49 420) scale(1 1.14)" font-size="7.45" text-anchor="middle">0.04</text>
<line x1="438.99" y1="409.9" x2="438.99" y2="412.2" stroke="#6e6e6e" stroke-width="1.0"/>
<text transform="translate(438.99 420) scale(1 1.14)" font-size="7.45" text-anchor="middle">0.06</text>
<line x1="487.49" y1="409.9" x2="487.49" y2="412.2" stroke="#6e6e6e" stroke-width="1.0"/>
<text transform="translate(487.49 420) scale(1 1.14)" font-size="7.45" text-anchor="middle">0.08</text>
<line x1="535.99" y1="409.9" x2="535.99" y2="412.2" stroke="#6e6e6e" stroke-width="1.0"/>
<text transform="translate(535.99 420) scale(1 1.14)" font-size="7.45" text-anchor="middle">0.10</text>
<line x1="304.9" y1="387.32" x2="307.2" y2="387.32" stroke="#6e6e6e" stroke-width="1.0"/>
<text transform="translate(301.8 390.32) scale(1 1.14)" font-size="7.45" text-anchor="end">0.1</text>
<line x1="304.9" y1="362" x2="307.2" y2="362" stroke="#6e6e6e" stroke-width="1.0"/>
<text transform="translate(301.8 365) scale(1 1.14)" font-size="7.45" text-anchor="end">0.2</text>
<line x1="304.9" y1="336.68" x2="307.2" y2="336.68" stroke="#6e6e6e" stroke-width="1.0"/>
<text transform="translate(301.8 339.68) scale(1 1.14)" font-size="7.45" text-anchor="end">0.3</text>
<line x1="304.9" y1="311.36" x2="307.2" y2="311.36" stroke="#6e6e6e" stroke-width="1.0"/>
<text transform="translate(301.8 314.36) scale(1 1.14)" font-size="7.45" text-anchor="end">0.4</text>
<line x1="304.9" y1="286.04" x2="307.2" y2="286.04" stroke="#6e6e6e" stroke-width="1.0"/>
<text transform="translate(301.8 289.04) scale(1 1.14)" font-size="7.45" text-anchor="end">0.5</text>
<line x1="304.9" y1="260.72" x2="307.2" y2="260.72" stroke="#6e6e6e" stroke-width="1.0"/>
<text transform="translate(301.8 263.72) scale(1 1.14)" font-size="7.45" text-anchor="end">0.6</text>
<line x1="304.9" y1="235.4" x2="307.2" y2="235.4" stroke="#6e6e6e" stroke-width="1.0"/>
<text transform="translate(301.8 238.4) scale(1 1.14)" font-size="7.45" text-anchor="end">0.7</text>
<text x="427.08" y="428.8" font-size="7.2" text-anchor="middle">p</text>
<text transform="translate(288.15 320.78) rotate(-90)" font-size="7.7" text-anchor="middle">&#949;(p)</text>
<text x="427.08" y="441.5" font-size="8.9" text-anchor="middle">(d) Power</text>
</g></svg></body></html>
